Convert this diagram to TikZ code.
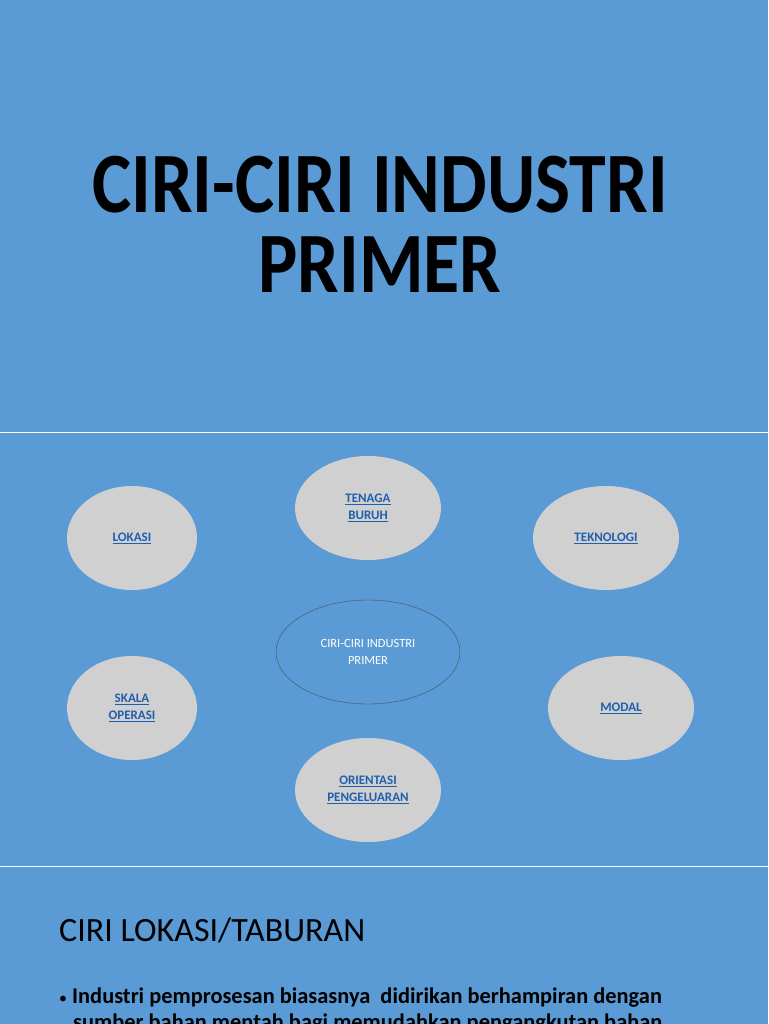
\documentclass[tikz,border=0pt]{standalone}
\usepackage{fontspec}
\setmainfont{Carlito}
\usetikzlibrary{shapes.geometric}
\definecolor{bg}{HTML}{5B9BD5}
\definecolor{lnk}{HTML}{1F5FAF}
\definecolor{ell}{HTML}{D0D0D0}
\tikzset{
  topic/.style={ellipse,fill=ell,minimum width=146pt,minimum height=104pt,inner sep=0pt,align=center,font=\fontsize{13}{17}\selectfont\bfseries,text=lnk},
  hub/.style={ellipse,draw=black!70,line width=0.4pt,minimum width=184pt,minimum height=104pt,inner sep=0pt,align=center,font=\fontsize{12.5}{17}\selectfont,text=white},
  ttl/.style={font=\fontsize{86}{90}\selectfont\bfseries,xscale=0.86}
}
\newcommand{\ul}[1]{\underline{#1}}
\begin{document}
\begin{tikzpicture}[x=1pt,y=-1pt]
\useasboundingbox (0,0) rectangle (768,1024);
\clip (0,0) rectangle (768,1024);
\fill[bg] (0,0) rectangle (768,1024);
\draw[white,line width=1pt] (0,432.5) -- (768,432.5);
\draw[white,line width=1pt] (0,866) -- (768,866);
\node[ttl] (t1) at (380,185) {CIRI-CIRI INDUSTRI};
\node[ttl] (t2) at (380,265) {PRIMER};
\node[topic,minimum width=130pt] (lok) at (132,538) {\ul{LOKASI}};
\node[topic] (ten) at (368,508) {\ul{TENAGA}\\\ul{BURUH}};
\node[topic] (tek) at (606,538) {\ul{TEKNOLOGI}};
\node[hub] (hub) at (368,652) {CIRI-CIRI INDUSTRI\\PRIMER};
\node[topic,minimum width=130pt] (ska) at (132,708) {\ul{SKALA}\\\ul{OPERASI}};
\node[topic] (mod) at (621,708) {\ul{MODAL}};
\node[topic] (ori) at (368,790) {\ul{ORIENTASI}\\\ul{PENGELUARAN}};
\node[anchor=base west,inner sep=0pt] (h3) at (59,941) {\fontsize{34}{40}\selectfont CIRI LOKASI/TABURAN};
\node[anchor=base west,inner sep=0pt] (b1) at (59,1003) {\fontsize{22.4}{26}\selectfont{\fontsize{16}{20}\selectfont\textbullet}\ \textbf{Industri pemprosesan biasasnya\ \ didirikan berhampiran dengan}};
\node[anchor=base west,inner sep=0pt] (b2) at (73,1029) {\fontsize{22.4}{26}\selectfont\textbf{sumber bahan mentah bagi memudahkan pengangkutan bahan}};
\end{tikzpicture}
\end{document}
